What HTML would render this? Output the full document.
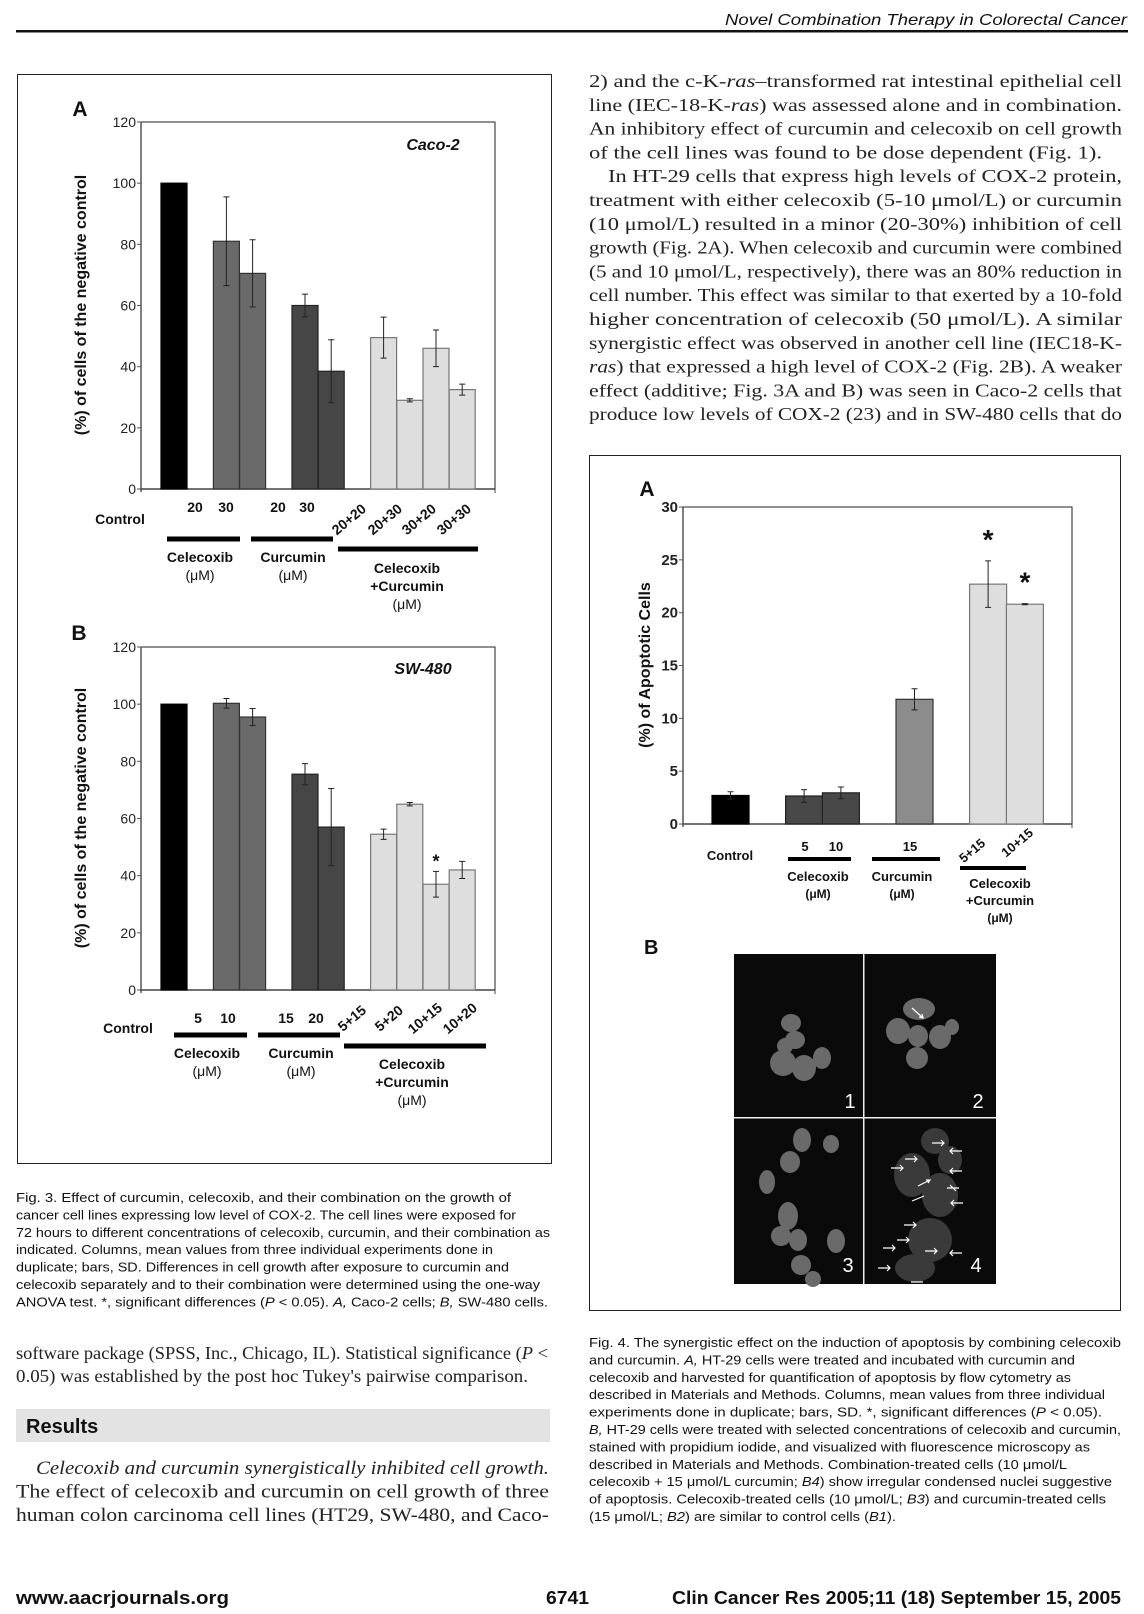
<!DOCTYPE html>
<html><head><meta charset="utf-8"><style>
html,body{margin:0;padding:0;background:#fff;}
svg{display:block;}
.sans{font-family:"Liberation Sans",Arial,sans-serif;}
.serif{font-family:"Liberation Serif","Times New Roman",serif;}
</style></head><body>
<svg id="page" width="1144" height="1614" viewBox="0 0 1144 1614" xmlns="http://www.w3.org/2000/svg">
<rect x="0" y="0" width="1144" height="1614" fill="#fff"/>
<text class="sans" x="1127" y="25" text-anchor="end" font-size="16" font-style="italic" fill="#111" textLength="402" lengthAdjust="spacingAndGlyphs">Novel Combination Therapy in Colorectal Cancer</text>
<rect x="16" y="30" width="1112" height="2.5" fill="#111"/>

<rect x="17.5" y="74.5" width="534" height="1089" fill="none" stroke="#222" stroke-width="1"/>
<rect x="589.5" y="455.5" width="531" height="855" fill="none" stroke="#222" stroke-width="1"/>

<g id="chartA"></g>
<g id="chartB"></g>
<g id="chartC"></g>

<g>
<rect x="734" y="954" width="262" height="330" fill="#0a0a0a"/>
<g fill="#6a6a6a">
<ellipse cx="791" cy="1023" rx="10" ry="9"/><ellipse cx="795" cy="1040" rx="10" ry="9"/><ellipse cx="785" cy="1046" rx="8" ry="8"/>
<ellipse cx="783" cy="1063" rx="13" ry="13"/><ellipse cx="804" cy="1068" rx="12" ry="13"/><ellipse cx="822" cy="1058" rx="9" ry="11"/>
<ellipse cx="919" cy="1009" rx="16" ry="11"/><ellipse cx="898" cy="1031" rx="12" ry="13"/><ellipse cx="918" cy="1036" rx="10" ry="11"/>
<ellipse cx="940" cy="1037" rx="11" ry="12"/><ellipse cx="952" cy="1027" rx="7" ry="8"/><ellipse cx="917" cy="1058" rx="11" ry="11"/>
<ellipse cx="802" cy="1140" rx="9" ry="12"/><ellipse cx="831" cy="1144" rx="8" ry="9"/><ellipse cx="790" cy="1162" rx="10" ry="11"/>
<ellipse cx="767" cy="1182" rx="8" ry="12"/><ellipse cx="788" cy="1216" rx="10" ry="14"/><ellipse cx="781" cy="1236" rx="10" ry="10"/><ellipse cx="798" cy="1240" rx="9" ry="11"/>
<ellipse cx="836" cy="1241" rx="9" ry="12"/><ellipse cx="801" cy="1265" rx="10" ry="10"/><ellipse cx="813" cy="1279" rx="8" ry="8"/>
</g>
<g fill="#3a3a3a">
<ellipse cx="935" cy="1141" rx="14" ry="13"/><ellipse cx="912" cy="1175" rx="18" ry="22"/><ellipse cx="940" cy="1195" rx="18" ry="22"/>
<ellipse cx="930" cy="1240" rx="22" ry="22"/><ellipse cx="915" cy="1268" rx="20" ry="14"/><ellipse cx="950" cy="1160" rx="12" ry="14"/>
</g>
<rect x="863" y="954" width="1.5" height="330" fill="#eee"/>
<rect x="734" y="1117" width="262" height="1.5" fill="#eee"/>
<g class="sans" font-size="20" fill="#fff" text-anchor="middle">
<text x="850" y="1108">1</text>
<text x="978" y="1108">2</text>
<text x="848" y="1272">3</text>
<text x="976" y="1272">4</text>
</g>
<g fill="none" stroke="#fff" stroke-width="1.2">
<path d="M912 1008 l11 10 m-1 -4 l1 4 l-4 -1"/>
<path d="M932 1143 h12 m-3 -3 l3 3 l-3 3"/><path d="M962 1151 h-12 m3 -3 l-3 3 l3 3"/>
<path d="M905 1159 h12 m-3 -3 l3 3 l-3 3"/><path d="M891 1168 h12 m-3 -3 l3 3 l-3 3"/>
<path d="M962 1171 h-12 m3 -3 l-3 3 l3 3"/><path d="M918 1186 l12 -6 m-4 0 l4 0 l-2 3"/>
<path d="M959 1188 h-12 m3 -3 l3 3 l3 3"/><path d="M912 1201 l12 -5"/><path d="M963 1203 h-12 m3 -3 l-3 3 l3 3"/>
<path d="M904 1225 h12 m-3 -3 l3 3 l-3 3"/><path d="M897 1240 h12 m-3 -3 l3 3 l-3 3"/><path d="M883 1248 h12 m-3 -3 l3 3 l-3 3"/>
<path d="M925 1251 h12 m-3 -3 l3 3 l-3 3"/><path d="M962 1253 h-12 m3 -3 l-3 3 l3 3"/>
<path d="M878 1268 h12 m-3 -3 l3 3 l-3 3"/><path d="M911 1282 h12"/>
</g>
</g>
<text class="sans" x="644" y="954" font-size="20" font-weight="bold" fill="#111">B</text>

<g id="rightText" class="serif" font-size="18" fill="#222"></g>
<g id="fig3cap" class="sans" font-size="13" fill="#111"></g>
<g id="fig4cap" class="sans" font-size="13" fill="#111"></g>
<g id="leftText" class="serif" font-size="17.5" fill="#222"></g>

<rect x="16" y="1409" width="534" height="33" fill="#e3e3e3"/>
<text class="sans" x="26" y="1433" font-size="20" font-weight="bold" fill="#111">Results</text>

<g class="sans" font-weight="bold" font-size="18" fill="#111">
<text x="16" y="1604" textLength="213" lengthAdjust="spacingAndGlyphs">www.aacrjournals.org</text>
<text x="546" y="1604" textLength="43" lengthAdjust="spacingAndGlyphs">6741</text>
<text x="672" y="1604" textLength="449" lengthAdjust="spacingAndGlyphs">Clin Cancer Res 2005;11 (18) September 15, 2005</text>
</g>
</svg>
<script>
const aCategories = ["Control","Cel 20","Cel 30","Cur 20","Cur 30","20+20","20+30","30+20","30+30"];
const aValues = [100, 81, 70.5, 60, 38.5, 49.5, 29, 46, 32.5];
const aErrors = [0, 14.5, 11, 3.7, 10.3, 6.7, 0.5, 6, 1.8];
const bCategories = ["Control","Cel 5","Cel 10","Cur 15","Cur 20","5+15","5+20","10+15","10+20"];
const bValues = [100, 100.3, 95.5, 75.5, 57, 54.5, 65, 37, 42];
const bErrors = [0, 1.7, 3, 3.7, 13.5, 1.8, 0.6, 4.5, 3];
const bStars = [0,0,0,0,0,0,0,1,0];
const cCategories = ["Control","Cel 5","Cel 10","Cur 15","5+15","10+15"];
const cValues = [2.7, 2.65, 2.95, 11.8, 22.7, 20.8];
const cErrors = [0.35, 0.6, 0.55, 1.0, 2.2, 0.05];
const cStars = [0,0,0,0,1,1];
const abTicks = [0,20,40,60,80,100,120];
const cTicks = [0,5,10,15,20,25,30];

const NS="http://www.w3.org/2000/svg";
function mk(parent,tag,attrs,txt){const e=document.createElementNS(NS,tag);for(const k in attrs)e.setAttribute(k,attrs[k]);if(txt!==undefined)e.textContent=txt;parent.appendChild(e);return e;}

function drawChart(g,cfg){
  const yS=v=>cfg.yBot-(v/cfg.ymax)*(cfg.yBot-cfg.yTop);
  const xS=i=>cfg.x0+cfg.pad+cfg.slots[i]*cfg.slotW;
  const fr=mk(g,'rect',{x:cfg.x0,y:cfg.yTop,width:cfg.x1-cfg.x0,height:cfg.yBot-cfg.yTop,fill:'none',stroke:'#222','stroke-width':1});
  
  
  const ax=mk(g,'line',{x1:cfg.x0,y1:cfg.yTop,x2:cfg.x0,y2:cfg.yBot+3,stroke:'#555','stroke-width':1.5});
  
  
  const xa=mk(g,'line',{x1:cfg.x0,y1:cfg.yBot,x2:cfg.x1,y2:cfg.yBot,stroke:'#444','stroke-width':1.5});
  
  
  mk(g,'line',{x1:cfg.x1,y1:cfg.yBot,x2:cfg.x1,y2:cfg.yBot+4,stroke:'#444','stroke-width':1});
  cfg.ticks.forEach(t=>{
    const y=yS(t);
    mk(g,'line',{x1:cfg.x0-4,y1:y,x2:cfg.x0,y2:y,stroke:'#555','stroke-width':1});
    const tl=mk(g,'text',{x:cfg.x0-5,y:y+5,'text-anchor':'end','font-size':cfg.tickFs,'font-weight':cfg.tickBold?'bold':'normal',fill:'#222',class:'sans'},String(t));
    
    
  });
  cfg.vals.forEach((v,i)=>{
    const x=xS(i),y=yS(v);
    const r=mk(g,'rect',{x:x,y:y,width:cfg.barW,height:cfg.yBot-y,fill:cfg.fills[i],stroke:cfg.strokes[i],'stroke-width':1.2});
    
    
    const e=cfg.errs[i];
    if(e>0){
      const cx=x+cfg.barW/2;
      const el=mk(g,'path',{d:`M${cx} ${yS(v+e)} V${yS(v-e)} M${cx-3} ${yS(v+e)} h6 M${cx-3} ${yS(v-e)} h6`,stroke:'#222','stroke-width':1,fill:'none'});
      
      
    }
    if(cfg.stars && cfg.stars[i]){
      const st=mk(g,'text',{x:x+cfg.barW/2,y:yS(v+e)-cfg.starGap,'text-anchor':'middle','font-size':cfg.starFs,'font-weight':'bold',fill:'#111',class:'sans'},'*');
      
      
    }
  });
}
const slots9=[0,2,3,5,6,8,9,10,11];
const fillsAB=['#000','#6a6a6a','#6a6a6a','#464646','#464646','#dedede','#dedede','#dedede','#dedede'];
const strokesAB=['#000','#333','#333','#222','#222','#777','#777','#777','#777'];
drawChart(document.getElementById('chartA'),{x0:141,x1:495,yTop:122,yBot:489,ymax:120,pad:20,slotW:26.2,barW:26,slots:slots9,vals:aValues,errs:aErrors,cats:aCategories,fills:fillsAB,strokes:strokesAB,ticks:abTicks,tickFs:14});
drawChart(document.getElementById('chartB'),{x0:141,x1:495,yTop:647,yBot:990,ymax:120,pad:20,slotW:26.2,barW:26,slots:slots9,vals:bValues,errs:bErrors,cats:bCategories,fills:fillsAB,strokes:strokesAB,ticks:abTicks,tickFs:14,stars:bStars,starGap:4,starFs:18});
drawChart(document.getElementById('chartC'),{x0:683,x1:1072,yTop:507,yBot:824,ymax:30,pad:29,slotW:36.8,barW:37,slots:[0,2,3,5,7,8],vals:cValues,errs:cErrors,cats:cCategories,fills:['#000','#484848','#484848','#8c8c8c','#dedede','#dedede'],strokes:['#000','#222','#222','#333','#777','#777'],ticks:cTicks,tickFs:15,tickBold:true,stars:cStars,starGap:12,starFs:28});

function T(g,x,y,s,o){o=o||{};const a={x:x,y:y,class:'sans','font-size':o.fs||14,'font-weight':o.w||'bold','text-anchor':o.a||'middle',fill:'#111'};if(o.it)a['font-style']='italic';if(o.rot!==undefined)a.transform=`rotate(${o.rot} ${x} ${y})`;const e=mk(g,'text',a,s);return e;}
function L(g,x1,x2,y,w){const e=mk(g,'rect',{x:x1,y:y-(w||5)/2,width:x2-x1,height:w||5,fill:'#000'});}
(function(){
 const A=document.getElementById('chartA');
 T(A,80,116,'A',{fs:21,name:'panel-a-letter'});
 T(A,86,305,'(%) of cells of the negative control',{fs:16,rot:-90,name:'y-axis-title'});
 T(A,433,150,'Caco-2',{fs:16,it:1,name:'cell-line-title'});
 T(A,120,524,'Control',{fs:14,name:'x-label-control'});
 T(A,195,512,'20');T(A,226,512,'30');T(A,278,512,'20');T(A,307,512,'30');
 [['20+20',352],['20+30',388],['30+20',422],['30+30',457]].forEach(p=>T(A,p[1],523,p[0],{rot:-40}));
 L(A,167,240,539);L(A,251,333,539);L(A,338,478,549);
 T(A,200,562,'Celecoxib');T(A,200,580,'(μM)',{w:'normal'});
 T(A,293,562,'Curcumin');T(A,293,580,'(μM)',{w:'normal'});
 T(A,407,573,'Celecoxib');T(A,407,591,'+Curcumin');T(A,407,609,'(μM)',{w:'normal'});
 const B=document.getElementById('chartB');
 T(B,79,640,'B',{fs:21,name:'panel-b-letter'});
 T(B,86,818,'(%) of cells of the negative control',{fs:16,rot:-90,name:'y-axis-title'});
 T(B,423,674,'SW-480',{fs:16,it:1,name:'cell-line-title'});
 T(B,128,1033,'Control',{fs:14,name:'x-label-control'});
 T(B,198,1023,'5');T(B,228,1023,'10');T(B,286,1023,'15');T(B,316,1023,'20');
 [['5+15',355],['5+20',392],['10+15',428],['10+20',463]].forEach(p=>T(B,p[1],1022,p[0],{rot:-40}));
 L(B,174,247,1035);L(B,258,340,1035);L(B,344,486,1046);
 T(B,207,1058,'Celecoxib');T(B,207,1076,'(μM)',{w:'normal'});
 T(B,301,1058,'Curcumin');T(B,301,1076,'(μM)',{w:'normal'});
 T(B,412,1069,'Celecoxib');T(B,412,1087,'+Curcumin');T(B,412,1105,'(μM)',{w:'normal'});
 const C=document.getElementById('chartC');
 T(C,647,496,'A',{fs:21,name:'panel-a-letter'});
 T(C,650,665,'(%) of Apoptotic Cells',{fs:16,rot:-90,name:'y-axis-title'});
 T(C,730,860,'Control',{fs:13});
 T(C,805,851,'5',{fs:13});T(C,836,851,'10',{fs:13});T(C,910,851,'15',{fs:13});
 T(C,975,854,'5+15',{fs:13,rot:-40});T(C,1020,846,'10+15',{fs:13,rot:-40});
 L(C,788,851,859,4);L(C,872,940,859,4);L(C,960,1026,868,4);
 T(C,818,881,'Celecoxib',{fs:13});T(C,818,898,'(μM)',{fs:12});
 T(C,902,881,'Curcumin',{fs:13});T(C,902,898,'(μM)',{fs:12});
 T(C,1000,888,'Celecoxib',{fs:13});T(C,1000,905,'+Curcumin',{fs:13});T(C,1000,922,'(μM)',{fs:12});
})();

function lines(gid,arr,x,y0,dy,name){
  const g=document.getElementById(gid);
  arr.forEach((l,i)=>{
    const a={x:x+(l[2]||0),y:y0+i*dy};
    if(l[1])a.textLength=l[1]-(l[2]||0),a.lengthAdjust='spacingAndGlyphs';
    const t=mk(g,'text',a);
    t.innerHTML=l[0];
    
    
  });
}
const I=s=>`<tspan font-style="italic">${s}</tspan>`;
lines('rightText',[
 [`2) and the c-K-${I('ras')}–transformed rat intestinal epithelial cell`,533],
 [`line (IEC-18-K-${I('ras')}) was assessed alone and in combination.`,533],
 [`An inhibitory effect of curcumin and celecoxib on cell growth`,533],
 [`of the cell lines was found to be dose dependent (Fig. 1).`,513],
 [`In HT-29 cells that express high levels of COX-2 protein,`,533,19],
 [`treatment with either celecoxib (5-10 μmol/L) or curcumin`,533],
 [`(10 μmol/L) resulted in a minor (20-30%) inhibition of cell`,533],
 [`growth (Fig. 2A). When celecoxib and curcumin were combined`,533],
 [`(5 and 10 μmol/L, respectively), there was an 80% reduction in`,533],
 [`cell number. This effect was similar to that exerted by a 10-fold`,533],
 [`higher concentration of celecoxib (50 μmol/L). A similar`,533],
 [`synergistic effect was observed in another cell line (IEC18-K-`,533],
 [`${I('ras')}) that expressed a high level of COX-2 (Fig. 2B). A weaker`,533],
 [`effect (additive; Fig. 3A and B) was seen in Caco-2 cells that`,533],
 [`produce low levels of COX-2 (23) and in SW-480 cells that do`,533]
],589,87,23.8,'body-text-line');
lines('fig3cap',[
 [`Fig. 3.  Effect of curcumin, celecoxib, and their combination on the growth of`,495],
 [`cancer cell lines expressing low level of COX-2. The cell lines were exposed for`,500],
 [`72 hours to different concentrations of celecoxib, curcumin, and their combination as`,534],
 [`indicated. Columns, mean values from three individual experiments done in`,477],
 [`duplicate; bars, SD. Differences in cell growth after exposure to curcumin and`,493],
 [`celecoxib separately and to their combination were determined using the one-way`,524],
 [`ANOVA test. *, significant differences (${I('P')} &lt; 0.05). ${I('A,')} Caco-2 cells; ${I('B,')} SW-480 cells.`,532]
],16,1202,17.4,'fig3-caption-line');
lines('fig4cap',[
 [`Fig. 4.  The synergistic effect on the induction of apoptosis by combining celecoxib`,532],
 [`and curcumin. ${I('A,')} HT-29 cells were treated and incubated with curcumin and`,486],
 [`celecoxib and harvested for quantification of apoptosis by flow cytometry as`,482],
 [`described in Materials and Methods. Columns, mean values from three individual`,516],
 [`experiments done in duplicate; bars, SD. *, significant differences (${I('P')} &lt; 0.05).`,513],
 [`${I('B,')} HT-29 cells were treated with selected concentrations of celecoxib and curcumin,`,532],
 [`stained with propidium iodide, and visualized with fluorescence microscopy as`,501],
 [`described in Materials and Methods. Combination-treated cells (10 μmol/L`,478],
 [`celecoxib + 15 μmol/L curcumin; ${I('B4')}) show irregular condensed nuclei suggestive`,523],
 [`of apoptosis. Celecoxib-treated cells (10 μmol/L; ${I('B3')}) and curcumin-treated cells`,517],
 [`(15 μmol/L; ${I('B2')}) are similar to control cells (${I('B1')}).`,307]
],589,1347,17.4,'fig4-caption-line');
lines('leftText',[
 [`software package (SPSS, Inc., Chicago, IL). Statistical significance (${I('P')} &lt;`,532],
 [`0.05) was established by the post hoc Tukey's pairwise comparison.`,512]
],16,1359,23,'methods-text-line');
(function(){
 const g=document.getElementById('leftText');
 const arr=[[`${I('Celecoxib and curcumin synergistically inhibited cell growth.')}`,533,20],
 [`The effect of celecoxib and curcumin on cell growth of three`,533],
 [`human colon carcinoma cell lines (HT29, SW-480, and Caco-`,533]];
 arr.forEach((l,i)=>{
  const t=mk(g,'text',{x:16+(l[2]||0),y:1474+i*23.5,textLength:l[1]-(l[2]||0),lengthAdjust:'spacingAndGlyphs','font-size':19});
  t.innerHTML=l[0];
  
  
 });
})();
</script>
</body></html>
